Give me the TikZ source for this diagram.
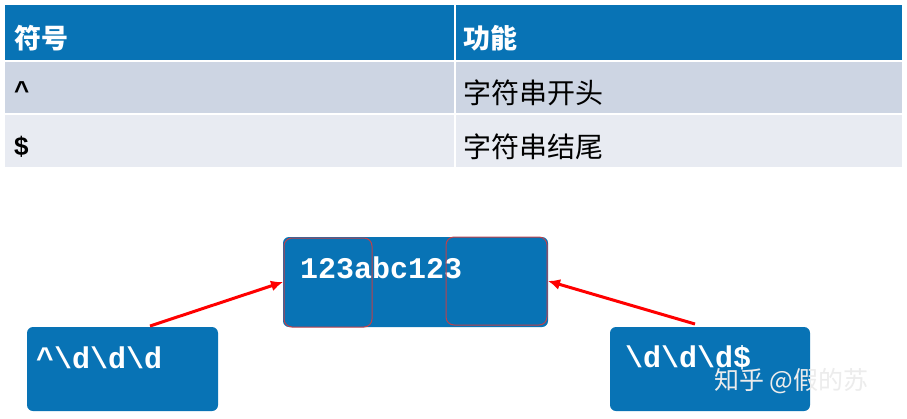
\documentclass[tikz,border=0pt]{standalone}
\usepackage{fontspec}
\usetikzlibrary{arrows.meta}
\setmainfont{Liberation Sans}
\newfontfamily\cjk{Noto Sans CJK SC}
\newfontfamily\mono{Liberation Mono}
\definecolor{hdr}{HTML}{0873B5}
\definecolor{rowa}{HTML}{CDD5E3}
\definecolor{rowb}{HTML}{E8EBF2}
\definecolor{boxb}{HTML}{0873B5}
\definecolor{redl}{HTML}{C0404A}
\begin{document}
\begin{tikzpicture}[x=1pt,y=-1pt,
  blue box/.style={fill=boxb,rounded corners=6pt,draw=none},
  mark box/.style={draw=redl,line width=1pt,rounded corners=8pt},
  arr/.style={draw=red,line width=3pt,-{Latex[length=12pt,width=11pt]}},
  txt/.style={font=\mono\bfseries\fontsize{30}{34}\selectfont,text=white,anchor=west,inner sep=0pt}]
\useasboundingbox (0,0) rectangle (907,418);
\fill[white] (0,0) rectangle (907,418);
% table
\fill[hdr] (5,5) rectangle (902,60);
\fill[rowa] (5,62) rectangle (902,113);
\fill[rowb] (5,115) rectangle (902,167);
\draw[white,line width=2pt] (455,5) -- (455,167);
\node[anchor=west,inner sep=0pt,text=white,font=\cjk\bfseries\fontsize{27}{30}\selectfont] (h1) at (14,38) {符号};
\node[anchor=west,inner sep=0pt,text=white,font=\cjk\bfseries\fontsize{27}{30}\selectfont] (h2) at (463,38) {功能};
\node[anchor=west,inner sep=0pt,font=\bfseries\fontsize{26}{30}\selectfont] (r1a) at (14,91) {\textasciicircum};
\node[anchor=west,inner sep=0pt,font=\cjk\fontsize{28}{30}\selectfont] (r1b) at (463,93) {字符串开头};
\node[anchor=west,inner sep=0pt,font=\bfseries\fontsize{26}{30}\selectfont] (r2a) at (14,147) {\$};
\node[anchor=west,inner sep=0pt,font=\cjk\fontsize{28}{30}\selectfont] (r2b) at (463,147) {字符串结尾};
% boxes
\fill[blue box] (283,237) rectangle (548,327);
\coordinate (cl) at (283,282);
\coordinate (cr) at (548,281);
\node[txt] (s) at (300,268) {123abc123};
\draw[mark box] (284,238) rectangle (372,327);
\draw[mark box] (446,237) rectangle (547,325);
\fill[blue box] (27,327) rectangle (218,411);
\node[txt] (l) at (36,358) {\textasciicircum\textbackslash d\textbackslash d\textbackslash d};
\fill[blue box] (610,327) rectangle (810,411);
\node[txt] (r) at (625,358) {\textbackslash d\textbackslash d\textbackslash d\$};
\coordinate (la) at (150,326);
\coordinate (ra) at (695,324);
\draw[arr] (la) -- (cl);
\draw[arr] (ra) -- (cr);
\node[anchor=west,inner sep=0pt,text=white!85!gray,font=\cjk\fontsize{25}{28}\selectfont] (wm) at (714,381) {知乎 @假的苏};
\end{tikzpicture}
\end{document}
